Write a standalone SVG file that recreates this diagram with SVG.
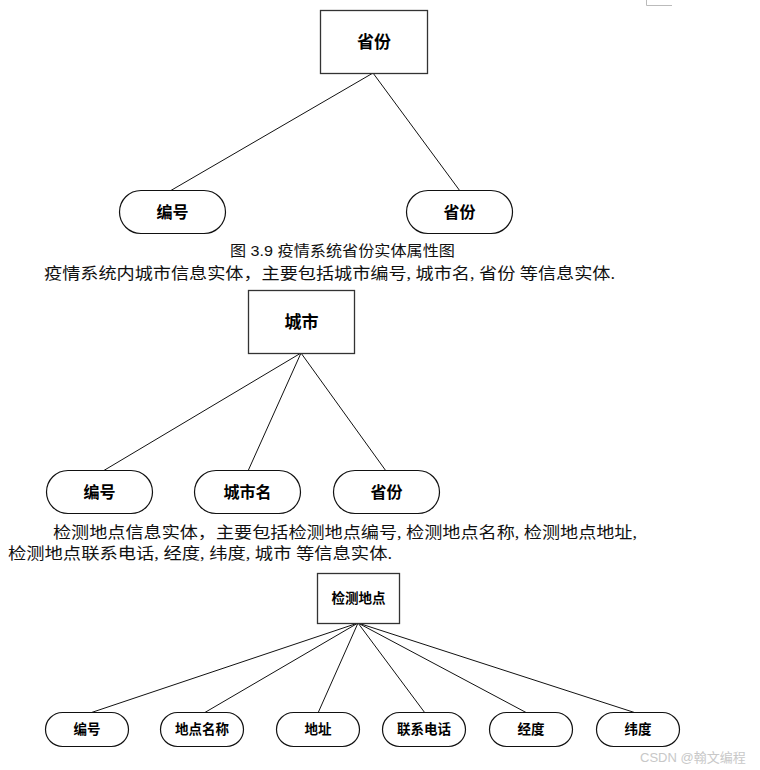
<svg xmlns="http://www.w3.org/2000/svg" width="760" height="770" viewBox="0 0 760 770">
<style>
.box{fill:#fff;stroke:#333;stroke-width:1.3}
.att{fill:#fff;stroke:#111;stroke-width:1.2}
.lbl{font-family:"Liberation Serif","Noto Sans CJK SC",serif;font-weight:bold;fill:#000;text-anchor:middle;dominant-baseline:central}
.l1{font-size:17px}
.l2{font-size:16px}
.l3{font-size:13.5px}
.txt{font-family:"Liberation Serif","Noto Sans CJK SC",serif;font-size:16px;fill:#111}
.cap{font-family:"Liberation Sans","Noto Sans CJK SC",sans-serif;font-size:15px;fill:#111}
#connectors line{stroke:#111;stroke-width:1}
</style>
<rect width="760" height="770" fill="#fff"/>
<g id="cornermark" stroke="#bbb" stroke-width="1" fill="none"><path d="M646.5 0V5.5H672"/></g>
<g id="connectors">
<line x1="373" y1="73" x2="170" y2="191"/>
<line x1="373" y1="73" x2="460" y2="191"/>
<line x1="301" y1="353" x2="103" y2="471"/>
<line x1="301" y1="353" x2="248" y2="471"/>
<line x1="301" y1="353" x2="386" y2="471"/>
<line x1="358" y1="623" x2="90" y2="713"/>
<line x1="358" y1="623" x2="204" y2="713"/>
<line x1="358" y1="623" x2="318" y2="713"/>
<line x1="358" y1="623" x2="425" y2="713"/>
<line x1="358" y1="623" x2="527" y2="713"/>
<line x1="358" y1="623" x2="636" y2="713"/>
</g>
<g id="n-province"><rect class="box" x="320.5" y="10.5" width="107" height="63"/><text class="lbl l1" x="374" y="42">省份</text></g>
<g id="n-p-id"><rect class="att" x="119.5" y="190.5" width="106" height="43" rx="21.5"/><text class="lbl l2" x="172.5" y="212">编号</text></g>
<g id="n-p-name"><rect class="att" x="406.5" y="190.5" width="106" height="43" rx="21.5"/><text class="lbl l2" x="459.5" y="212">省份</text></g>
<text class="cap" x="230" y="256" textLength="225" lengthAdjust="spacingAndGlyphs">图 3.9 疫情系统省份实体属性图</text>
<text class="txt" x="44" y="279" textLength="571" lengthAdjust="spacingAndGlyphs">疫情系统内城市信息实体，主要包括城市编号, 城市名, 省份  等信息实体.</text>
<g id="n-city"><rect class="box" x="248.5" y="290.5" width="106" height="63"/><text class="lbl l1" x="301.5" y="322">城市</text></g>
<g id="n-c-id"><rect class="att" x="46.5" y="470.5" width="106" height="43" rx="21.5"/><text class="lbl l2" x="99.5" y="492">编号</text></g>
<g id="n-c-name"><rect class="att" x="194.5" y="470.5" width="106" height="43" rx="21.5"/><text class="lbl l2" x="247.5" y="492">城市名</text></g>
<g id="n-c-prov"><rect class="att" x="333.5" y="470.5" width="106" height="43" rx="21.5"/><text class="lbl l2" x="386.5" y="492">省份</text></g>
<text class="txt" x="53" y="538" textLength="584" lengthAdjust="spacingAndGlyphs">检测地点信息实体，主要包括检测地点编号, 检测地点名称, 检测地点地址,</text>
<text class="txt" x="8" y="559" textLength="384" lengthAdjust="spacingAndGlyphs">检测地点联系电话, 经度, 纬度, 城市  等信息实体.</text>
<g id="n-site"><rect class="box" x="317.5" y="573.5" width="82" height="50"/><text class="lbl l3" x="358.5" y="598">检测地点</text></g>
<g id="n-s-id"><rect class="att" x="45.5" y="712.5" width="83" height="34" rx="17"/><text class="lbl l3" x="87" y="729.5">编号</text></g>
<g id="n-s-name"><rect class="att" x="160.5" y="712.5" width="83" height="34" rx="17"/><text class="lbl l3" x="202" y="729.5">地点名称</text></g>
<g id="n-s-addr"><rect class="att" x="276.5" y="712.5" width="83" height="34" rx="17"/><text class="lbl l3" x="318" y="729.5">地址</text></g>
<g id="n-s-tel"><rect class="att" x="382.5" y="712.5" width="83" height="34" rx="17"/><text class="lbl l3" x="424" y="729.5">联系电话</text></g>
<g id="n-s-lng"><rect class="att" x="489.5" y="712.5" width="83" height="34" rx="17"/><text class="lbl l3" x="531" y="729.5">经度</text></g>
<g id="n-s-lat"><rect class="att" x="596.5" y="712.5" width="83" height="34" rx="17"/><text class="lbl l3" x="638" y="729.5">纬度</text></g>
<text x="640" y="762" font-family="Liberation Sans,'Noto Sans CJK SC',sans-serif" font-size="13" fill="#c8c8c8">CSDN @翰文编程</text>
</svg>
